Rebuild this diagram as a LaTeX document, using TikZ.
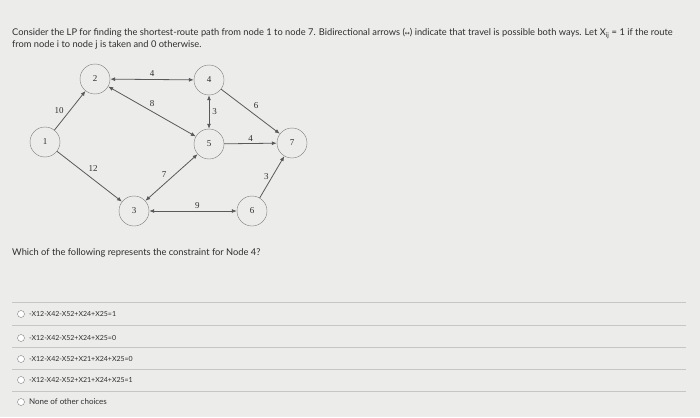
\documentclass[tikz,border=0pt]{standalone}
\usepackage{fontspec}
\setmainfont{Lato}
\newfontfamily\netfont{Liberation Serif}
\newfontfamily\symfont{DejaVu Sans}
\usetikzlibrary{arrows.meta}
\definecolor{pagebg}{HTML}{ECECEB}
\definecolor{ink}{HTML}{2E2E2E}
\definecolor{edgegray}{HTML}{5A5A5A}
\begin{document}
\begin{tikzpicture}[x=1pt,y=-1pt,
    place/.style={circle,draw=edgegray!80,fill=pagebg,minimum size=30pt,inner sep=0pt,
        font=\netfont\fontsize{9}{9}\selectfont,text=ink},
    route/.style={draw=edgegray,line width=0.8pt,-{Latex[length=5pt,width=4pt]}},
    both/.style={route,{Latex[length=5pt,width=4pt]}-{Latex[length=5pt,width=4pt]}},
    cost/.style={font=\netfont\fontsize{9}{9}\selectfont,text=ink,inner sep=2pt},
    choice/.style={anchor=west,font=\fontsize{7}{8}\selectfont,text=ink,inner sep=0pt},
    radio/.style={circle,draw=gray,fill=white,minimum size=7pt,inner sep=0pt}]
    \fill[pagebg] (0,0) rectangle (700,417);
    \useasboundingbox (0,0) rectangle (700,417);
    \node [anchor=north west,align=left,text=ink,inner sep=0pt,
        font=\fontsize{9.3}{11.5}\selectfont] (intro) at (12,28.5)
        {Consider the LP for finding the shortest-route path from node 1 to node 7. Bidirectional arrows ({\symfont\fontsize{6}{6}\selectfont ↔}) indicate that travel is possible both ways. Let X\textsubscript{ij} = 1 if the route\\
         from node i to node j is taken and 0 otherwise.};
    \node [place] (n1) at (45,142) {1};
    \node [place] (n2) at (95,79) {2};
    \node [place] (n4) at (209,80) {4};
    \node [place] (n5) at (209,144) {5};
    \node [place] (n7) at (292,143) {7};
    \node [place] (n3) at (134,211) {3};
    \node [place] (n6) at (252,211) {6};
    \draw [route] (n1) -- node [cost,left=4pt] {10} (n2);
    \draw [route] (n1) -- node [cost,above right,pos=0.45] {12} (n3);
    \draw [both] (n2) -- node [cost,above=1pt] {4} (n4);
    \draw [both] (n2) -- node [cost,above=3pt] {8} (n5);
    \draw [both] (n4) -- node [cost,right=1pt] {3} (n5);
    \draw [route] (n4) -- node [cost,above right=1pt] {6} (n7);
    \draw [route] (n5) -- node [cost,above] {4} (n7);
    \draw [both] (n3) -- node [cost,above left,pos=0.45] {7} (n5);
    \draw [both] (n3) -- node [cost,above,pos=0.55] {9} (n6);
    \draw [route] (n6) -- node [cost,left=1pt] {3} (n7);
    \node [anchor=west,text=ink,inner sep=0pt,font=\fontsize{9.3}{11}\selectfont] (ask) at (12,253)
        {Which of the following represents the constraint for Node 4?};
    \foreach \y in {302,325,347,369,391}
        \draw [gray!45,line width=0.8pt] (12,\y) -- (686,\y);
    \foreach \y/\txt [count=\i] in {314/-X12-X42-X52+X24+X25=1,
                                    338/-X12-X42-X52+X24+X25=0,
                                    359/-X12-X42-X52+X21+X24+X25=0,
                                    380/-X12-X42-X52+X21+X24+X25=1} {
        \node [radio] (r\i) at (21,\y) {};
        \node [choice] (c\i) at (29,\y) {\txt};
    }
    \node [radio] (r5) at (21,402) {};
    \node [choice,font=\fontsize{8}{9}\selectfont] (c5) at (29,402) {None of other choices};
\end{tikzpicture}
\end{document}
